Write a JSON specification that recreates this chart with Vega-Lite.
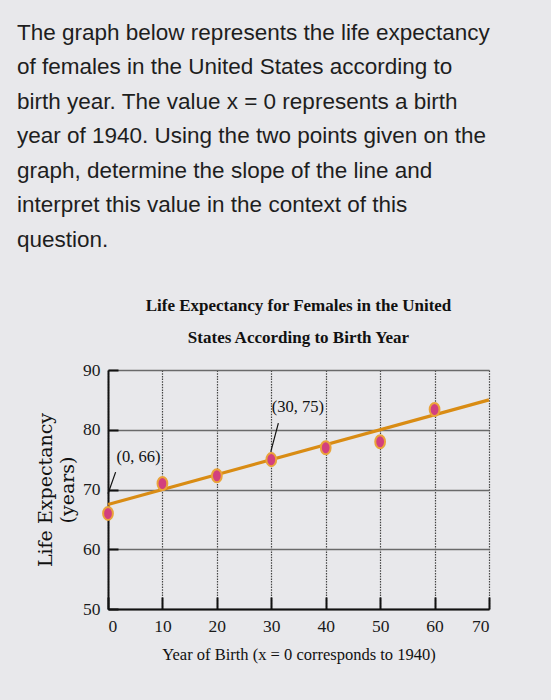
{
  "$schema": "https://vega.github.io/schema/vega-lite/v6.json",
  "background": "#e8e8eb",
  "padding": {"left": 17, "top": 21, "right": 55, "bottom": 48},
  "title": {
    "text": [
      "The graph below represents the life expectancy",
      "of females in the United States according to",
      "birth year. The value x = 0 represents a birth",
      "year of 1940. Using the two points given on the",
      "graph, determine the slope of the line and",
      "interpret this value in the context of this",
      "question."
    ],
    "anchor": "start",
    "frame": "group",
    "dx": -91,
    "offset": 46,
    "font": "Liberation Sans",
    "fontSize": 22.5,
    "fontWeight": "normal",
    "color": "#1e1e1e",
    "lineHeight": 34.5
  },
  "datasets": {
    "points": [
      {"x": 0, "y": 66},
      {"x": 10, "y": 71},
      {"x": 20, "y": 72.3},
      {"x": 30, "y": 75},
      {"x": 40, "y": 77},
      {"x": 50, "y": 78},
      {"x": 60, "y": 83.4}
    ],
    "fit": [
      {"x": 0, "y": 67.5},
      {"x": 70, "y": 85}
    ],
    "labels": [
      {"x": 5.6, "y": 75.4, "text": "(0, 66)"},
      {"x": 34.9, "y": 83.8, "text": "(30, 75)"}
    ],
    "leaders": [
      {"x": 1.4, "y": 72.9, "x2": 0, "y2": 69.3},
      {"x": 31.3, "y": 81.1, "x2": 29.9, "y2": 76.3}
    ]
  },
  "vconcat": [
    {
      "width": 381,
      "height": 239,
      "title": {
        "text": ["Life Expectancy for Females in the United", "States According to Birth Year"],
        "font": "Liberation Serif",
        "fontSize": 17,
        "fontWeight": "bold",
        "lineHeight": 32,
        "offset": 14,
        "color": "#111111"
      },
      "encoding": {
        "x": {
          "field": "x",
          "type": "quantitative",
          "scale": {"domain": [0, 70], "nice": false, "zero": false},
          "title": "Year of Birth (x = 0 corresponds to 1940)",
          "axis": {
            "values": [0, 10, 20, 30, 40, 50, 60, 70],
            "grid": true,
            "gridColor": "#444444",
            "gridDash": [1.5, 1.2],
            "gridWidth": 1.2,
            "tickSize": -12,
            "labelPadding": 20,
            "titlePadding": 12
          }
        },
        "y": {
          "field": "y",
          "type": "quantitative",
          "scale": {"domain": [50, 90], "nice": false, "zero": false},
          "title": ["Life Expectancy", "(years)"],
          "axis": {
            "values": [50, 60, 70, 80, 90],
            "grid": true,
            "gridColor": "#6a6a6a",
            "gridWidth": 1.6,
            "tickSize": -10,
            "labelPadding": 18,
            "titleFont": "DejaVu Serif",
            "titleFontSize": 19,
            "titleLineHeight": 22,
            "titlePadding": 5
          }
        }
      },
      "layer": [
        {
          "data": {"name": "leaders"},
          "mark": {"type": "rule", "color": "#111111", "strokeWidth": 1.2},
          "encoding": {
            "x2": {"field": "x2"},
            "y2": {"field": "y2"}
          }
        },
        {
          "data": {"name": "fit"},
          "mark": {"type": "line", "color": "#d98c14", "strokeWidth": 3.2}
        },
        {
          "data": {"name": "points"},
          "mark": {
            "type": "point",
            "shape": "M -0.75 0 A 0.75 1 0 1 0 0.75 0 A 0.75 1 0 1 0 -0.75 0 Z",
            "size": 170,
            "filled": true,
            "fill": "#d2407f",
            "stroke": "#eaa33a",
            "strokeWidth": 2,
            "opacity": 1
          }
        },
        {
          "data": {"name": "labels"},
          "mark": {"type": "text", "font": "Liberation Serif", "fontSize": 16.5, "color": "#111111"},
          "encoding": {"text": {"field": "text"}}
        }
      ]
    }
  ],
  "config": {
    "view": {"stroke": null},
    "axis": {
      "domainColor": "#111111",
      "domainWidth": 2,
      "tickColor": "#111111",
      "tickWidth": 2,
      "labelFont": "Liberation Serif",
      "labelFontSize": 17.5,
      "labelColor": "#1a1a1a",
      "titleFont": "Liberation Serif",
      "titleFontSize": 16.5,
      "titleFontWeight": "normal",
      "titleColor": "#111111"
    }
  }
}
